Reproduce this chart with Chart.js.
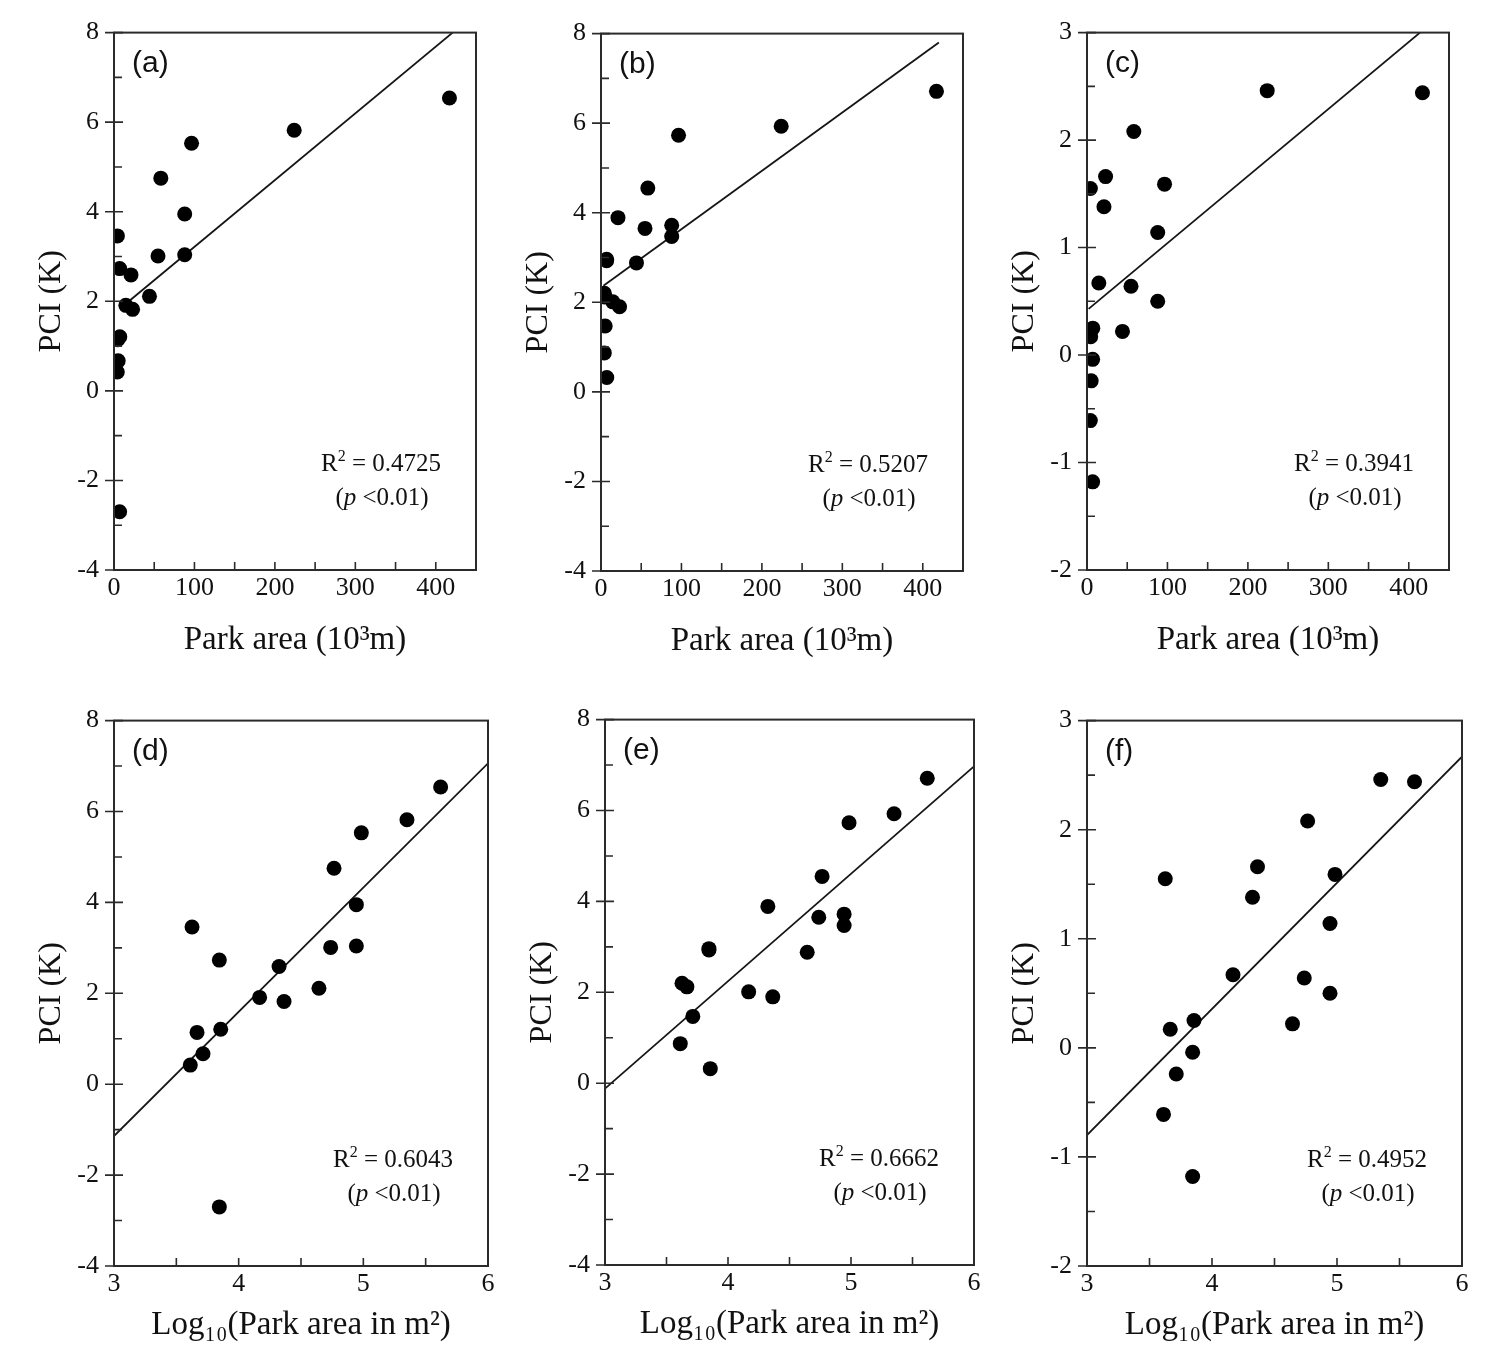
<!DOCTYPE html>
<html>
<head>
<meta charset="utf-8">
<script src="https://cdn.jsdelivr.net/npm/chart.js@4.4.1/dist/chart.umd.min.js"></script>
<style>
  html, body { margin: 0; padding: 0; background: #fff; }
  #wrap { position: relative; width: 1485px; height: 1356px; }
  #wrap canvas { position: absolute; }
</style>
</head>
<body>
<div id="wrap"></div>
<script>
// same park order in every array
const areaK   = [4.2, 7.0, 4.6, 7.2, 5.2, 4.1, 14.7, 21.1, 23.1, 44.1, 54.7, 58.2, 87.9, 87.9, 96.4, 224, 417, 7.0];   // 10^3 m2
const logArea = [3.626, 3.845, 3.666, 3.856, 3.714, 3.612, 4.168, 4.324, 4.364, 4.644, 4.738, 4.765, 4.944, 4.944, 4.984, 5.35, 5.62, 3.845];
const pciA = [3.46, 2.73, 1.14, 1.21, 0.67, 0.42, 1.91, 2.59, 1.82, 2.11, 3.01, 4.75, 3.95, 3.04, 5.53, 5.82, 6.54, -2.70];
const pciB = [2.20, 2.96, 2.12, 0.32, 1.47, 0.87, 2.01, 3.89, 1.90, 2.88, 3.65, 4.55, 3.72, 3.47, 5.73, 5.93, 6.71, 2.93];
const pciC = [1.55, -0.04, 0.17, 0.25, -0.24, -0.61, 0.67, 1.38, 1.66, 0.22, 0.64, 2.08, 1.14, 0.50, 1.59, 2.46, 2.44, -1.18];

// fitted lines (end points)
const fitAx = [17, 421],  fitAy = [1.98, 8.0];
const fitBx = [3, 420],   fitBy = [2.37, 7.80];
const fitCx = [2, 414],   fitCy = [0.43, 3.0];
const fitDx = [3, 6],     fitDy = [-1.14, 7.06];
const fitEx = [3, 6],     fitEy = [-0.12, 6.97];
const fitFx = [3, 6],     fitFy = [-0.80, 2.67];

const panelLabels = ['(a)', '(b)', '(c)', '(d)', '(e)', '(f)'];
const r2Values = ['0.4725', '0.5207', '0.3941', '0.6043', '0.6662', '0.4952'];

const serif = '"Liberation Serif", "Times New Roman", "DejaVu Serif", serif';
const ink = '#111';

function pts(xs, ys) {
  return xs.map((v, i) => ({ x: v, y: ys[i] }));
}

// box, ticks and the text inside each panel
const framePlugin = {
  id: 'frame',
  afterDraw(chart, args, o) {
    const ctx = chart.ctx;
    const a = chart.chartArea;
    const xs = chart.scales.x, ys = chart.scales.y;
    ctx.save();
    ctx.strokeStyle = '#2b2b2b';
    ctx.lineWidth = 2;
    ctx.strokeRect(a.left, a.top, a.right - a.left, a.bottom - a.top);

    ctx.lineWidth = 1.6;
    ctx.beginPath();
    xs.ticks.forEach((t, i) => {
      const px = xs.getPixelForTick(i);
      ctx.moveTo(px, a.bottom);
      ctx.lineTo(px, a.bottom - 8);
    });
    ys.ticks.forEach((t, i) => {
      const py = ys.getPixelForTick(i);
      if (t.label !== '') {
        ctx.moveTo(a.left - 9, py);
        ctx.lineTo(a.left + 9, py);
      } else {
        ctx.moveTo(a.left, py);
        ctx.lineTo(a.left + 8, py);
      }
    });
    ctx.stroke();

    ctx.fillStyle = ink;
    ctx.textBaseline = 'alphabetic';
    ctx.textAlign = 'left';
    ctx.font = '30px "Liberation Sans", Arial, sans-serif';
    ctx.fillText(o.label, a.left + 18, a.top + 39);

    // R^2 line and (p <0.01)
    const cx = a.right - 95;
    drawRuns(ctx, cx, a.bottom - 99, [
      ['R', '25px ' + serif, 0],
      ['2', '16px ' + serif, -10],
      [' = ' + o.r2, '25px ' + serif, 0]
    ]);
    drawRuns(ctx, cx + 1, a.bottom - 65, [
      ['(', '25px ' + serif, 0],
      ['p', 'italic 25px ' + serif, 0],
      [' <0.01)', '25px ' + serif, 0]
    ]);
    ctx.restore();
  }
};

function drawRuns(ctx, cx, baseY, runs) {
  let total = 0;
  runs.forEach(r => { ctx.font = r[1]; total += ctx.measureText(r[0]).width; });
  let x = cx - total / 2;
  runs.forEach(r => {
    ctx.font = r[1];
    ctx.fillText(r[0], x, baseY + r[2]);
    x += ctx.measureText(r[0]).width;
  });
}

// chart area boxes in page pixels: left, top, right, bottom
const panels = [
  { box: [114, 18, 476, 570],   xs: areaK,   ys: pciA, fx: fitAx, fy: fitAy, xr: [0, 450, 50, 100], yr: [-4, 8, 1, 2],     xt: 'Park area (10³m)', xh: 94 },
  { box: [601, 19, 963, 571],   xs: areaK,   ys: pciB, fx: fitBx, fy: fitBy, xr: [0, 450, 50, 100], yr: [-4, 8, 1, 2],     xt: 'Park area (10³m)', xh: 94 },
  { box: [1087, 18, 1449, 570], xs: areaK,   ys: pciC, fx: fitCx, fy: fitCy, xr: [0, 450, 50, 100], yr: [-2, 3, 0.5, 1],   xt: 'Park area (10³m)', xh: 94 },
  { box: [114, 706, 488, 1266], xs: logArea, ys: pciA, fx: fitDx, fy: fitDy, xr: [3, 6, 0.5, 1],    yr: [-4, 8, 1, 2],     xt: 'Log₁₀(Park area in m²)', xh: 83 },
  { box: [605, 705, 974, 1265], xs: logArea, ys: pciB, fx: fitEx, fy: fitEy, xr: [3, 6, 0.5, 1],    yr: [-4, 8, 1, 2],     xt: 'Log₁₀(Park area in m²)', xh: 83 },
  { box: [1087, 706, 1462, 1266], xs: logArea, ys: pciC, fx: fitFx, fy: fitFy, xr: [3, 6, 0.5, 1],  yr: [-2, 3, 0.5, 1],   xt: 'Log₁₀(Park area in m²)', xh: 83 }
];

const YW = 86, PADT = 16, PADR = 14;
const wrap = document.getElementById('wrap');

function isMajor(v, every) {
  return Math.abs(v / every - Math.round(v / every)) < 1e-6;
}

panels.forEach((p, k) => {
  const [L, T, R, B] = p.box;
  const cv = document.createElement('canvas');
  const w = YW + (R - L) + PADR, h = PADT + (B - T) + p.xh;
  cv.width = w; cv.height = h;
  cv.style.left = (L - YW) + 'px';
  cv.style.top = (T - PADT) + 'px';
  cv.style.width = w + 'px';
  cv.style.height = h + 'px';
  wrap.appendChild(cv);

  new Chart(cv.getContext('2d'), {
    type: 'scatter',
    data: {
      datasets: [{
        data: pts(p.xs, p.ys),
        pointRadius: 7.5,
        pointBackgroundColor: '#000',
        pointBorderColor: '#000',
        pointBorderWidth: 0
      }, {
        data: pts(p.fx, p.fy),
        showLine: true,
        borderColor: '#151515',
        borderWidth: 1.8,
        pointRadius: 0
      }]
    },
    options: {
      responsive: false,
      animation: false,
      devicePixelRatio: 1,
      layout: { padding: { top: PADT, right: PADR, left: 0, bottom: 0 } },
      plugins: {
        legend: { display: false },
        tooltip: { enabled: false },
        frame: { label: panelLabels[k], r2: r2Values[k] }
      },
      scales: {
        x: {
          type: 'linear',
          min: p.xr[0], max: p.xr[1],
          ticks: {
            stepSize: p.xr[2], autoSkip: false, maxRotation: 0, padding: 3,
            color: ink, font: { family: serif, size: 26 },
            callback: v => isMajor(v, p.xr[3]) ? String(v) : ''
          },
          grid: { drawOnChartArea: false, drawTicks: false },
          border: { color: '#2b2b2b', width: 2 },
          title: { display: true, text: p.xt, color: ink, font: { family: serif, size: 33 }, padding: { top: 4, bottom: 4 } },
          afterFit(s) { s.height = p.xh; }
        },
        y: {
          type: 'linear',
          min: p.yr[0], max: p.yr[1],
          ticks: {
            stepSize: p.yr[2], autoSkip: false, padding: 15,
            color: ink, font: { family: serif, size: 26 },
            callback: v => isMajor(v, p.yr[3]) ? String(v) : ''
          },
          grid: { drawOnChartArea: false, drawTicks: false },
          border: { color: '#2b2b2b', width: 2 },
          title: { display: true, text: 'PCI (K)', color: ink, font: { family: serif, size: 32 }, padding: { top: 4, bottom: 4 } },
          afterFit(s) { s.width = YW; }
        }
      }
    },
    plugins: [framePlugin]
  });
});
</script>
</body>
</html>
